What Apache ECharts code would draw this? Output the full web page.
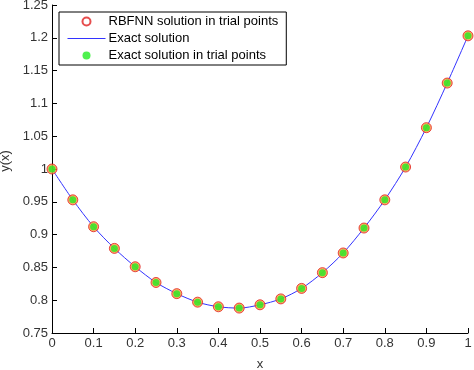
<!DOCTYPE html>
<html>
<head>
<meta charset="utf-8">
<script src="https://cdn.jsdelivr.net/npm/echarts@6/dist/echarts.min.js"></script>
<style>html,body{margin:0;padding:0;background:#fff}#c{width:474px;height:370px}</style>
</head>
<body>
<div id="c"></div>
<script>
const xValues = [0,0.05,0.1,0.15,0.2,0.25,0.3,0.35,0.4,0.45,0.5,0.55,0.6,0.65,0.7,0.75,0.8,0.85,0.9,0.95,1.0];
const rbfnnValues = [1.0,0.953,0.912,0.879,0.851,0.827,0.810,0.797,0.790,0.788,0.793,0.802,0.818,0.842,0.872,0.910,0.953,1.003,1.063,1.131,1.203];
const exactValues = [1.0,0.953,0.912,0.879,0.851,0.827,0.810,0.797,0.790,0.788,0.793,0.802,0.818,0.842,0.872,0.910,0.953,1.003,1.063,1.131,1.203];
const xTicks = [0,0.1,0.2,0.3,0.4,0.5,0.6,0.7,0.8,0.9,1];
const yTicks = [0.75,0.8,0.85,0.9,0.95,1,1.05,1.1,1.15,1.2,1.25];
const seriesNames = ['RBFNN solution in trial points','Exact solution','Exact solution in trial points'];

const pair = (ys) => xValues.map((x,i)=>[x,ys[i]]);
const font = 'Liberation Sans, Arial, sans-serif';
const chart = echarts.init(document.getElementById('c'), null, {renderer:'canvas'});
chart.setOption({
  animation:false,
  backgroundColor:'#fff',
  grid:{left:52,right:6,top:5,bottom:37,containLabel:false,outerBoundsMode:'none'},
  legend:{
    orient:'vertical', left:59, top:12,
    padding:[3,8,3,8], itemGap:4,
    itemWidth:38, itemHeight:8,
    backgroundColor:'#fff', borderColor:'#000', borderWidth:1, borderRadius:0,
    textStyle:{fontFamily:font,fontSize:13,color:'#000',padding:[0,0,0,-2]},
    data:[
      {name:seriesNames[0], icon:'emptyCircle', itemStyle:{color:'#e02020',borderColor:'#e02020',borderWidth:1.2}},
      {name:seriesNames[1], itemStyle:{opacity:0}, lineStyle:{color:'#3333ff',width:1,opacity:1}},
      {name:seriesNames[2], icon:'circle', itemStyle:{color:'#22ee22'}}
    ]
  },
  xAxis:{
    type:'value', min:0, max:1, interval:0.1,
    name:'x', nameLocation:'middle', nameGap:25,
    nameTextStyle:{fontFamily:font,fontSize:13,color:'#333'},
    axisLine:{lineStyle:{color:'#000',width:1}},
    axisTick:{inside:true,length:5,lineStyle:{color:'#000'}},
    axisLabel:{fontFamily:font,fontSize:13,color:'#333',margin:4,formatter:v=>String(+v.toFixed(2))},
    splitLine:{show:false}
  },
  yAxis:{
    type:'value', min:0.75, max:1.25, interval:0.05,
    name:'y(x)', nameLocation:'middle', nameGap:36, nameRotate:90,
    nameTextStyle:{fontFamily:font,fontSize:13,color:'#333',padding:[0,0,0,16]},
    axisLine:{show:true,lineStyle:{color:'#000',width:1}},
    axisTick:{show:true,inside:true,length:5,lineStyle:{color:'#000'}},
    axisLabel:{fontFamily:font,fontSize:13,color:'#333',margin:4,formatter:v=>String(+v.toFixed(2))},
    splitLine:{show:false}
  },
  series:[
    {name:seriesNames[1], type:'line', data:pair(exactValues), symbol:'none', smooth:0.3,
     lineStyle:{color:'#3333ff',width:1}, itemStyle:{color:'#3333ff'}, z:2},
    {name:seriesNames[0], type:'scatter', data:pair(rbfnnValues), symbol:'circle', symbolSize:10,
     itemStyle:{color:'#ff9a40',borderColor:'#e02020',borderWidth:1}, z:3},
    {name:seriesNames[2], type:'scatter', data:pair(exactValues), symbol:'circle', symbolSize:7,
     itemStyle:{color:'#22ee22'}, z:4}
  ]
});
</script>
</body>
</html>
